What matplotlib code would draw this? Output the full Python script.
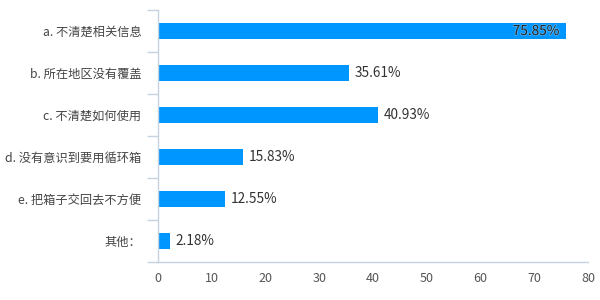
import numpy as np
import matplotlib.pyplot as plt
import matplotlib.patheffects as pe

plt.rcParams['font.family'] = ['Noto Sans CJK SC', 'DejaVu Sans']

categories = ['a. 不清楚相关信息', 'b. 所在地区没有覆盖', 'c. 不清楚如何使用',
              'd. 没有意识到要用循环箱', 'e. 把箱子交回去不方便', '其他：']
values = [75.85, 35.61, 40.93, 15.83, 12.55, 2.18]
xticks = [0, 10, 20, 30, 40, 50, 60, 70, 80]

bar_color = '#0096ff'
axis_color = '#c6d2e0'

fig = plt.figure(figsize=(6, 3), dpi=100)
ax = fig.add_axes([158 / 600, 1 - 262 / 300, 430 / 600, 252 / 300])

y = np.arange(len(categories))
ax.barh(y, values, height=0.38, color=bar_color)

ax.set_xlim(0, 80)
ax.set_ylim(len(categories) - 0.5, -0.5)

for yi, v in zip(y, values):
    label = f'{v:.2f}%'
    if v > 70:
        # top bar: label sits inside the bar end
        ax.text(v - 1.2, yi, label, ha='right', va='center', fontsize=9.8, color='#222222',
                path_effects=[pe.withStroke(linewidth=1.0, foreground='white', alpha=0.35)])
    else:
        ax.text(v + 1.0, yi, label, ha='left', va='center', fontsize=9.8, color='#333333')

ax.set_yticks(y)
ax.set_yticklabels(categories, fontsize=8.8, color='#444444')
ax.set_yticks(np.arange(-0.5, len(categories)), minor=True)
ax.tick_params(axis='y', which='major', length=0, pad=12)
ax.tick_params(axis='y', which='minor', length=8, width=1, color=axis_color)

ax.set_xticks(xticks)
ax.set_xticklabels([str(t) for t in xticks], fontsize=9, color='#555555')
ax.tick_params(axis='x', length=0, pad=7)

for s in ['top', 'right']:
    ax.spines[s].set_visible(False)
for s in ['left', 'bottom']:
    ax.spines[s].set_color(axis_color)
    ax.spines[s].set_linewidth(1)

fig.savefig('out.png', dpi=100)
